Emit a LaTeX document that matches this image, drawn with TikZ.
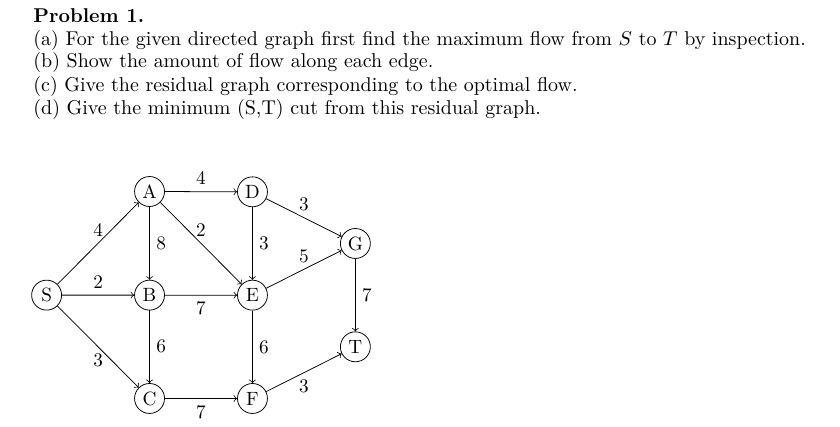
\RequirePackage{fix-cm}
\documentclass[tikz,border=0pt]{standalone}
\usetikzlibrary{matrix}

\tikzset{
	vertex/.style={draw, circle, minimum size=15.6pt, inner sep=0pt},
	textline/.style={anchor=base west, inner sep=0pt, font=\fontsize{10.4pt}{12pt}\selectfont}
}

\begin{document}
\begin{tikzpicture}[x=0.5208pt, y=-0.5208pt]
	\useasboundingbox (0,0) rectangle (840,427);
	\node[textline] (title) at (33,22) {\textbf{Problem 1.}};
	\node[textline] (qa) at (33,45) {(a) For the given directed graph first find the maximum flow from $S$ to $T$ by inspection.};
	\node[textline] (qb) at (33,68) {(b) Show the amount of flow along each edge.};
	\node[textline] (qc) at (33,91) {(c) Give the residual graph corresponding to the optimal flow.};
	\node[textline] (qd) at (33,114) {(d) Give the minimum (S,T) cut from this residual graph.};
	\matrix (m) at (201,295) [matrix of nodes, row sep=10.9pt, column sep=37.6pt, nodes={vertex}] {
		  & A & D &   \\
		  &   &   & G \\
		S & B & E &   \\
		  &   &   & T \\
		  & C & F &   \\};
	\path[->]
		(m-3-1) edge node [above] {4} (m-1-2)
		(m-3-1) edge node [above] {2} (m-3-2)
		(m-3-1) edge node [below] {3} (m-5-2)
		(m-1-2) edge node [right] {8} (m-3-2)
		(m-3-2) edge node [right] {6} (m-5-2)
		(m-1-2) edge node [above] {4} (m-1-3)
		(m-1-2) edge node [above] {2} (m-3-3)
		(m-3-2) edge node [below] {7} (m-3-3)
		(m-5-2) edge node [below] {7} (m-5-3)
		(m-1-3) edge node [right] {3} (m-3-3)
		(m-3-3) edge node [right] {6} (m-5-3)
		(m-1-3) edge node [above] {3} (m-2-4)
		(m-3-3) edge node [above] {5} (m-2-4)
		(m-2-4) edge node [right] {7} (m-4-4)
		(m-5-3) edge node [below] {3} (m-4-4);
\end{tikzpicture}
\end{document}
